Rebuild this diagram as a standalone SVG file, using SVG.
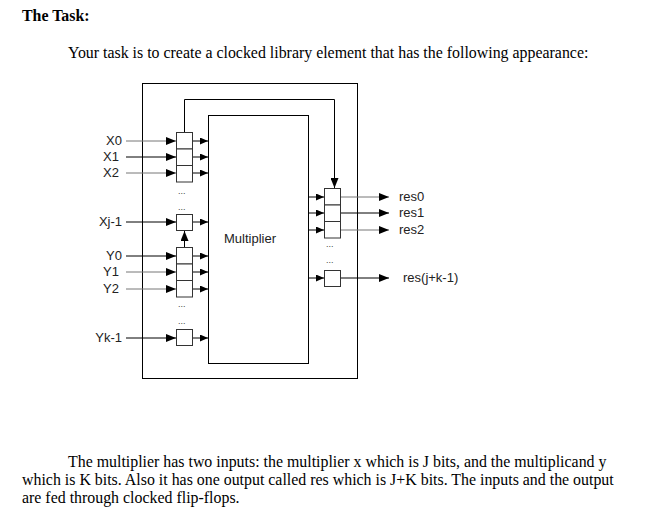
<svg xmlns="http://www.w3.org/2000/svg" width="668" height="530" viewBox="0 0 668 530">
<style>
.t{font-family:"Liberation Serif",serif;font-size:15.9px;fill:#000}
.l{font-family:"Liberation Sans",sans-serif;font-size:13px;fill:#222}
.ff{fill:#fff;stroke:#333;stroke-width:1}
.w{stroke:#000;stroke-width:1;fill:none}
.g{stroke:#777;stroke-width:1;fill:none}
.d{font-family:"Liberation Sans",sans-serif;font-size:9px;fill:#444}
</style>
<defs>
<marker id="a" markerWidth="10" markerHeight="8" refX="10" refY="4" orient="auto" markerUnits="userSpaceOnUse"><path d="M0,0L10,4L0,8z" fill="#000"/></marker>
<marker id="s" markerWidth="8" markerHeight="7" refX="8" refY="3.5" orient="auto" markerUnits="userSpaceOnUse"><path d="M0,0L8,3.5L0,7z" fill="#000"/></marker>
</defs>
<rect width="668" height="530" fill="#fff"/>
<text class="t" x="22" y="21" font-weight="bold">The Task:</text>
<text class="t" x="68" y="58">Your task is to create a clocked library element that has the following appearance:</text>
<g id="outer"><rect x="142.5" y="83.5" width="215" height="295" fill="none" stroke="#000"/></g>
<g id="multiplier"><rect x="208.5" y="115.5" width="100" height="248" fill="none" stroke="#000"/><text class="l" x="224" y="243">Multiplier</text></g>
<g id="connectors">
<path class="w" d="M184.5,132V99.5H334.5V188" marker-end="url(#a)"/>
<path class="w" d="M184.5,247V231" marker-end="url(#a)"/>
<path class="g" d="M126,141H176" marker-end="url(#a)"/>
<path class="w" d="M126,157H176" marker-end="url(#a)"/>
<path class="g" d="M126,173H176" marker-end="url(#a)"/>
<path class="w" d="M126,222H176" marker-end="url(#a)"/>
<path class="w" d="M126,256H176" marker-end="url(#a)"/>
<path class="g" d="M126,272H176" marker-end="url(#a)"/>
<path class="g" d="M126,289H176" marker-end="url(#a)"/>
<path class="w" d="M126,338H176" marker-end="url(#a)"/>
<path class="w" d="M192,141H208" marker-end="url(#s)"/>
<path class="w" d="M192,157H208" marker-end="url(#s)"/>
<path class="w" d="M192,173H208" marker-end="url(#s)"/>
<path class="w" d="M192,222H208" marker-end="url(#s)"/>
<path class="w" d="M192,256H208" marker-end="url(#s)"/>
<path class="w" d="M192,272H208" marker-end="url(#s)"/>
<path class="w" d="M192,289H208" marker-end="url(#s)"/>
<path class="w" d="M192,338H208" marker-end="url(#s)"/>
<path class="w" d="M308,197H324" marker-end="url(#s)"/>
<path class="w" d="M308,213H324" marker-end="url(#s)"/>
<path class="w" d="M308,230H324" marker-end="url(#s)"/>
<path class="w" d="M308,278H324" marker-end="url(#s)"/>
<path class="g" d="M340,197H389" marker-end="url(#a)"/>
<path class="w" d="M340,213H389" marker-end="url(#a)"/>
<path class="g" d="M340,230H389" marker-end="url(#a)"/>
<path class="w" d="M340,278H389" marker-end="url(#a)"/>
</g>
<g id="ff-in">
<rect class="ff" x="176.5" y="132.5" width="16" height="16.5"/>
<rect class="ff" x="176.5" y="149" width="16" height="16.5"/>
<rect class="ff" x="176.5" y="165.5" width="16" height="16.5"/>
<rect class="ff" x="176.5" y="214.5" width="16" height="16"/>
<rect class="ff" x="176.5" y="247.5" width="16" height="16.5"/>
<rect class="ff" x="176.5" y="264" width="16" height="16.5"/>
<rect class="ff" x="176.5" y="280.5" width="16" height="16.5"/>
<rect class="ff" x="176.5" y="329.5" width="16" height="16"/>
<text class="d" x="178" y="194">...</text><text class="d" x="178" y="210">...</text>
<text class="d" x="178" y="307">...</text><text class="d" x="178" y="324">...</text>
</g>
<g id="ff-out">
<rect class="ff" x="324.5" y="188.5" width="16" height="16.5"/>
<rect class="ff" x="324.5" y="205" width="16" height="16.5"/>
<rect class="ff" x="324.5" y="221.5" width="16" height="16.5"/>
<rect class="ff" x="324.5" y="270.5" width="16" height="16"/>
<text class="d" x="326" y="247">...</text><text class="d" x="326" y="263">...</text>
</g>
<g id="labels" class="l" text-anchor="end">
<text x="122" y="145">X0</text><text x="119" y="161">X1</text><text x="119" y="177">X2</text>
<text x="122" y="226">Xj-1</text><text x="122" y="260">Y0</text><text x="119" y="276">Y1</text>
<text x="119" y="293">Y2</text><text x="122" y="342">Yk-1</text>
</g>
<g class="l">
<text x="399" y="201">res0</text><text x="399" y="217">res1</text><text x="399" y="234">res2</text>
<text x="403" y="282">res(j+k-1)</text>
</g>
<text class="t" x="68" y="467">The multiplier has two inputs: the multiplier x which is J bits, and the multiplicand y</text>
<text class="t" x="22" y="485">which is K bits. Also it has one output called res which is J+K bits. The inputs and the output</text>
<text class="t" x="22" y="503">are fed through clocked flip-flops.</text>
</svg>
